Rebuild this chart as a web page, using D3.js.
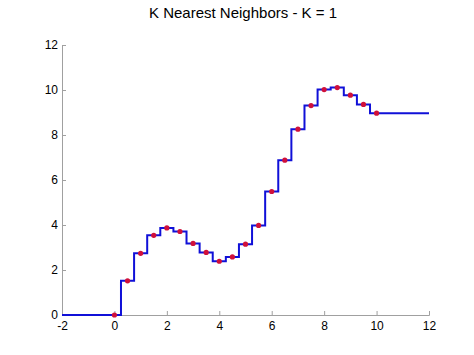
<!DOCTYPE html>
<html>
<head>
<meta charset="utf-8">
<script src="https://cdn.jsdelivr.net/npm/d3@7"></script>
<style>
  body { margin: 0; background: #fff; }
  svg { font-family: "Liberation Sans", Arial, sans-serif; }
  .axis path, .axis line { stroke: #a0a0a0; }
  .axis text { fill: #000; font-size: 12px; }
</style>
</head>
<body>
<svg width="474" height="355"></svg>
<script>
// **** data ****
const xs = [0, 0.5, 1, 1.5, 2, 2.5, 3, 3.5, 4, 4.5, 5, 5.5, 6, 6.5, 7, 7.5, 8, 8.5, 9, 9.5, 10];
const ys = [0, 1.52, 2.74, 3.54, 3.87, 3.71, 3.18, 2.78, 2.39, 2.58, 3.15, 3.98, 5.49, 6.88, 8.26, 9.31, 10.02, 10.11, 9.77, 9.36, 8.97];
const xTicks = [-2, 0, 2, 4, 6, 8, 10, 12];
const yTicks = [0, 2, 4, 6, 8, 10, 12];

// **** scales and axes ****
var xScale = d3.scaleLinear().domain([-2, 12]).range([62, 429]);
var yScale = d3.scaleLinear().domain([0, 12]).range([315, 45]);

var svg = d3.select('svg');

svg.append('g').attr('class', 'x axis')
    .attr('transform', 'translate(0,315)')
    .call(d3.axisBottom(xScale).tickValues(xTicks).tickFormat(d => String(d))
        .tickSizeInner(-4).tickSizeOuter(-4).tickPadding(6));

svg.append('g').attr('class', 'y axis')
    .attr('transform', 'translate(62,0)')
    .call(d3.axisLeft(yScale).tickValues(yTicks).tickFormat(d => String(d))
        .tickSizeInner(-4).tickSizeOuter(-4).tickPadding(4));

svg.append('text')
    .attr('x', 243)
    .attr('y', 18)
    .attr('text-anchor', 'middle')
    .style('font-size', '15px')
    .text('K Nearest Neighbors - K = 1');

// **** 1-NN prediction: step function over the x domain ****
const points = xs.map((x, i) => [x, ys[i]]);
const [x0, x1] = xScale.domain();
const stepData = [[x0, ys[0]], ...points, [x1, ys[ys.length - 1]]];

const line = d3.line()
    .x(d => xScale(d[0]))
    .y(d => yScale(d[1]))
    .curve(d3.curveStep);

svg.append('path')
    .datum(stepData)
    .attr('d', line)
    .style('fill', 'none')
    .style('stroke', '#1010d8')
    .style('stroke-width', 2);

svg.selectAll('.pt')
    .data(points)
    .enter()
    .append('circle')
    .attr('class', 'pt')
    .attr('cx', d => xScale(d[0]))
    .attr('cy', d => yScale(d[1]))
    .attr('r', 2.6)
    .style('fill', '#d0103a');
</script>
</body>
</html>
